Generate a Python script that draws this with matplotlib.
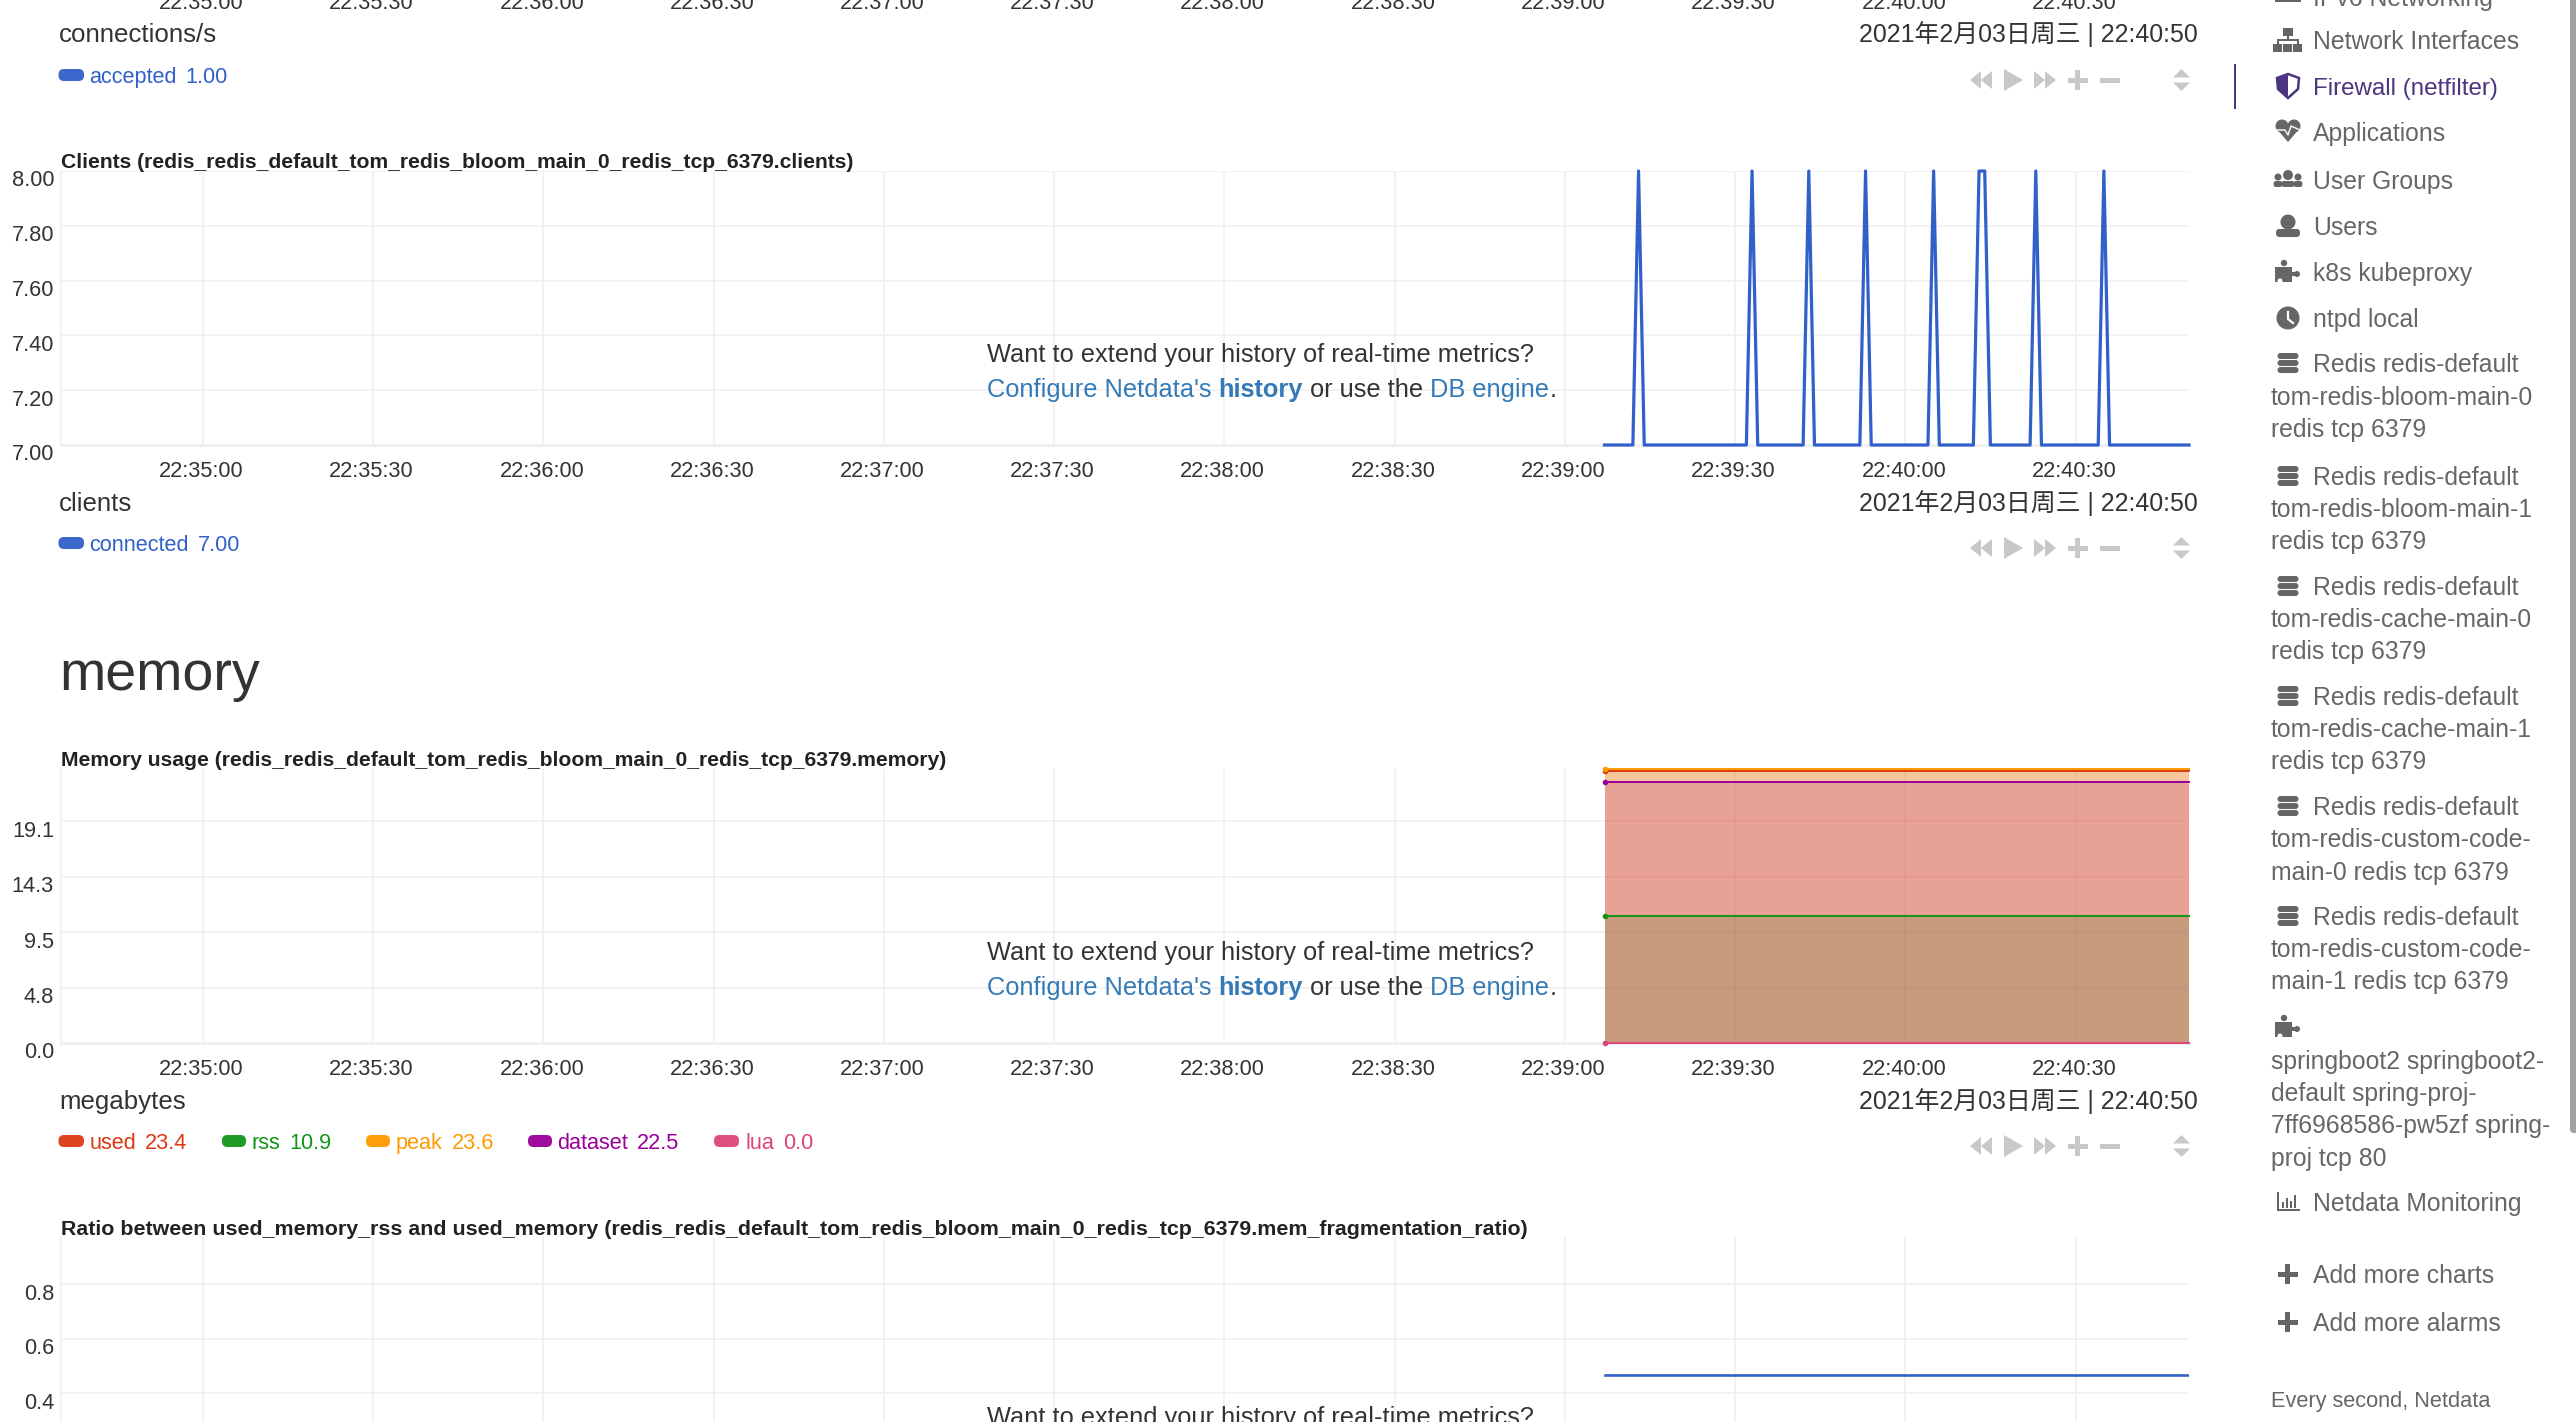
import matplotlib
matplotlib.use("Agg")
import matplotlib.pyplot as plt
import matplotlib.dates as mdates
import pandas as pd
from matplotlib.patches import Circle, FancyBboxPatch, Polygon, Rectangle
from matplotlib.transforms import ScaledTranslation

plt.rcParams["font.family"] = ["Liberation Sans", "Noto Sans CJK SC"]

# ==================== Data ====================
time_ticks = ["22:35:00", "22:35:30", "22:36:00", "22:36:30", "22:37:00", "22:37:30",
              "22:38:00", "22:38:30", "22:39:00", "22:39:30", "22:40:00", "22:40:30"]
stamp = "2021年2月03日周三 | 22:40:50"

clients_times = ["22:39:07", "22:39:12", "22:39:13", "22:39:14", "22:39:32", "22:39:33",
                 "22:39:34", "22:39:42", "22:39:43", "22:39:44", "22:39:52", "22:39:53",
                 "22:39:54", "22:40:04", "22:40:05", "22:40:06", "22:40:12", "22:40:13",
                 "22:40:14", "22:40:15", "22:40:22", "22:40:23", "22:40:24", "22:40:34",
                 "22:40:35", "22:40:36", "22:40:50"]
clients_values = [7, 7, 8, 7, 7, 8, 7, 7, 8, 7, 7, 8, 7, 7, 8, 7, 7, 8, 8, 7, 7, 8, 7, 7, 8, 7, 7]
clients_ticks = [7.0, 7.2, 7.4, 7.6, 7.8, 8.0]
clients_ticklabels = ["7.00", "7.20", "7.40", "7.60", "7.80", "8.00"]

memory_times = ["22:39:07", "22:40:50"]
memory_used = [23.4, 23.4]
memory_rss = [10.9, 10.9]
memory_peak = [23.6, 23.6]
memory_dataset = [22.5, 22.5]
memory_lua = [0.0, 0.0]
memory_ticks = [0.0, 4.775, 9.55, 14.325, 19.1]
memory_ticklabels = ["0.0", "4.8", "9.5", "14.3", "19.1"]

ratio_times = ["22:39:07", "22:40:50"]
ratio_values = [0.466, 0.466]
ratio_ticks = [0.4, 0.6, 0.8]
ratio_ticklabels = ["0.4", "0.6", "0.8"]

sidebar_rows = ["Network Interfaces", "Applications", "User Groups", "Users",
                "k8s kubeproxy", "ntpd local", "Netdata Monitoring",
                "Add more charts", "Add more alarms"]
redis_blocks = [["tom-redis-bloom-main-0", "redis tcp 6379"],
                ["tom-redis-bloom-main-1", "redis tcp 6379"],
                ["tom-redis-cache-main-0", "redis tcp 6379"],
                ["tom-redis-cache-main-1", "redis tcp 6379"],
                ["tom-redis-custom-code-", "main-0 redis tcp 6379"],
                ["tom-redis-custom-code-", "main-1 redis tcp 6379"]]
spring_lines = ["springboot2 springboot2-", "default spring-proj-",
                "7ff6968586-pw5zf spring-", "proj tcp 80"]

# ==================== Settings ====================
W, H = 2576, 1422
DPI = 100
BLUE, RED, GREEN, ORANGE, PURPLE, PINK = "#3060c8", "#dc3912", "#109618", "#ff9900", "#990099", "#dd4477"
GRID = "#f0f0f0"
INK = "#333333"
SIDE = "#666666"
LINK = "#337ab7"
CTRL = "#c8c8c8"
TICK_PT, UNIT_PT, STAMP_PT, SIDE_PT, WATER_PT, TITLE_PT, LEGEND_PT = 15.7, 18.6, 17.95, 17.8, 18.3, 15.2, 15.6

fig = plt.figure(figsize=(W / DPI, H / DPI), dpi=DPI, facecolor="white")


def tnum(times):
    return mdates.date2num(pd.to_datetime(["2021-02-03 " + t for t in times]))


def chart_axes(top, bottom, ylim, ticks, ticklabels, xlabels=True):
    left, right = 61, 2189
    ax = fig.add_axes([left / W, 1 - bottom / H, (right - left) / W, (bottom - top) / H])
    ax.set_facecolor("none")
    ax.set_xlim(tnum(["22:34:35", "22:40:50"]))
    ax.set_ylim(*ylim)
    ax.set_xticks(tnum(time_ticks), time_ticks if xlabels else [])
    ax.set_yticks(ticks, ticklabels)
    ax.tick_params(length=0, labelsize=TICK_PT, labelcolor=INK, pad=5)
    ax.tick_params(axis="x", pad=11.5)
    ax.grid(True, color=GRID, linewidth=1.2, zorder=0)
    ax.set_axisbelow(True)
    for side in ("top", "right"):
        ax.spines[side].set_visible(False)
    ax.spines["left"].set_color(GRID)
    ax.spines["left"].set_linewidth(1.2)
    ax.spines["bottom"].set_color(GRID)
    ax.spines["bottom"].set_linewidth(2.2)
    # dygraphs puts y labels a bit under the grid line
    shift_y = ScaledTranslation(0, -7.5 / DPI, fig.dpi_scale_trans)
    shift_x = ScaledTranslation(-1.5 / DPI, 0, fig.dpi_scale_trans)
    for lab in ax.get_yticklabels():
        lab.set_transform(lab.get_transform() + shift_y)
    for lab in ax.get_xticklabels():
        lab.set_transform(lab.get_transform() + shift_x)
    return ax


# ---------------- Charts ----------------
ax0 = chart_axes(-297, -23, (0, 1), [], [])

ax1 = chart_axes(171, 445, (7, 8), clients_ticks, clients_ticklabels)
ax1.plot(tnum(clients_times), clients_values, color=BLUE, linewidth=2.3, clip_on=False, zorder=3,
         solid_joinstyle="round")

ax2 = chart_axes(769, 1043, (0, 23.6), memory_ticks, memory_ticklabels)
mem_x = tnum(memory_times)
memory_series = [(memory_used, RED), (memory_rss, GREEN), (memory_dataset, PURPLE),
                 (memory_peak, ORANGE), (memory_lua, PINK)]
for vals, col in memory_series:
    ax2.fill_between(mem_x, 0, vals, color=col, alpha=0.22, linewidth=0, zorder=2)
for vals, col in memory_series:
    ax2.plot(mem_x, vals, color=col, linewidth=1.4, clip_on=False, zorder=3,
             marker="o", markersize=3, markevery=[0])

ax3 = chart_axes(1237, 1502, (0, 0.973), ratio_ticks, ratio_ticklabels, xlabels=False)
ax3.plot(tnum(ratio_times), ratio_values, color=BLUE, linewidth=1.9, zorder=3)

# ---------------- Page overlay in pixel coords ----------------
ui = fig.add_axes([0, 0, 1, 1], zorder=10)
ui.set_xlim(0, W)
ui.set_ylim(H, 0)
ui.axis("off")
ui.patch.set_alpha(0)
renderer = fig.canvas.get_renderer()


def label(x, y, s, size, color=INK, weight="normal", ha="left"):
    # y is the middle of the capitals, so the baseline sits a bit lower
    base = y + 0.36 * size * DPI / 72
    return ui.text(x, base, s, fontsize=size, color=color, fontweight=weight, ha=ha,
                   va="baseline", clip_on=True)


def runs(x, y, parts, size):
    for s, col, weight, gap in parts:
        x += gap * size * DPI / 72
        t = label(x, y, s, size, col, weight)
        x += t.get_window_extent(renderer).width


def pill(x0, x1, y, color):
    ui.add_patch(FancyBboxPatch((x0, y - 6), x1 - x0, 12, boxstyle="round,pad=0,rounding_size=5.5",
                                facecolor=color, edgecolor="none", alpha=0.95))


def controls(y):
    c = dict(facecolor=CTRL, edgecolor="none")
    for x in (1970, 1981):
        ui.add_patch(Polygon([(x + 11, y - 9), (x + 11, y + 9), (x, y)], **c))
    ui.add_patch(Polygon([(2004, y - 11), (2004, y + 11), (2023, y)], **c))
    for x in (2034, 2045):
        ui.add_patch(Polygon([(x, y - 9), (x, y + 9), (x + 11, y)], **c))
    ui.add_patch(Rectangle((2068, y - 2.5), 20, 5, **c))
    ui.add_patch(Rectangle((2075.5, y - 10), 5, 20, **c))
    ui.add_patch(Rectangle((2100, y - 2.5), 20, 5, **c))
    ui.add_patch(Polygon([(2173, y - 2.5), (2190, y - 2.5), (2181.5, y - 11)], **c))
    ui.add_patch(Polygon([(2173, y + 2.5), (2190, y + 2.5), (2181.5, y + 11)], **c))


def watermark(bottom):
    label(987, bottom - 92, "Want to extend your history of real-time metrics?", WATER_PT)
    runs(987, bottom - 57, [("Configure Netdata's", LINK, "normal", 0),
                            ("history", LINK, "bold", 0.278),
                            ("or use the", INK, "normal", 0.278),
                            ("DB engine", LINK, "normal", 0.278),
                            (".", INK, "normal", 0)], WATER_PT)


def chart_text(title, title_y, unit, unit_y, legend_y, control_y, legend):
    if title:
        label(61, title_y, title, TITLE_PT, "#222222", "bold")
    label(59, unit_y, unit, UNIT_PT)
    label(2198, unit_y, stamp, STAMP_PT, ha="right")
    for x0, x1, tx, col, name, val in legend:
        pill(x0, x1, legend_y, col)
        runs(tx, legend_y, [(name, col, "normal", 0), (val, col, "normal", 0.42)], LEGEND_PT)
    controls(control_y)


chart_text(None, 0, "connections/s", 33, 75, 80,
           [(58.5, 84, 89, BLUE, "accepted", "1.00")])
chart_text("Clients (redis_redis_default_tom_redis_bloom_main_0_redis_tcp_6379.clients)", 160,
           "clients", 502, 543, 548, [(58.5, 84, 89, BLUE, "connected", "7.00")])
chart_text("Memory usage (redis_redis_default_tom_redis_bloom_main_0_redis_tcp_6379.memory)", 758.5,
           "megabytes", 1100, 1141, 1146,
           [(58.5, 84, 89.5, RED, "used", "23.4"), (222, 246, 251.5, GREEN, "rss", "10.9"),
            (366, 390, 395.5, ORANGE, "peak", "23.6"), (528, 552, 557.5, PURPLE, "dataset", "22.5"),
            (714, 739, 745.5, PINK, "lua", "0.0")])
label(61, 1227, "Ratio between used_memory_rss and used_memory "
      "(redis_redis_default_tom_redis_bloom_main_0_redis_tcp_6379.mem_fragmentation_ratio)",
      15.36, "#222222", "bold")
label(59, 670, "memory", 40, INK)
for b in (445, 1043, 1508):
    watermark(b)


# ---------------- Sidebar icons ----------------
def box(x, y, w, h, col=SIDE):
    ui.add_patch(Rectangle((x, y), w, h, facecolor=col, edgecolor="none"))


def dot(x, y, r, col=SIDE):
    ui.add_patch(Circle((x, y), r, facecolor=col, edgecolor="none"))


def icon_network(x, y):
    box(x - 5, y - 12, 10, 8)
    box(x - 1, y - 4, 2, 4)
    box(x - 11, y - 1, 22, 2)
    for dx in (-14.5, -4.5, 5.5):
        box(x + dx, y + 4, 9, 8)
    box(x - 11, y, 2, 4)
    box(x + 9, y, 2, 4)


def icon_shield(x, y, col):
    ui.add_patch(Polygon([(x, y - 12), (x + 11, y - 8), (x + 10, y + 3), (x, y + 12),
                          (x - 10, y + 3), (x - 11, y - 8)], closed=True,
                         facecolor="white", edgecolor=col, linewidth=1.8))
    ui.add_patch(Polygon([(x, y - 12), (x, y + 12), (x - 10, y + 3), (x - 11, y - 8)], facecolor=col, edgecolor="none"))


def icon_heart(x, y):
    dot(x - 6, y - 6, 6.5)
    dot(x + 6, y - 6, 6.5)
    ui.add_patch(Polygon([(x - 12, y - 4), (x + 12, y - 4), (x, y + 10)], facecolor=SIDE, edgecolor="none"))
    ui.plot([x - 12, x - 3, x, x + 3, x + 12], [y - 2, y - 2, y + 3, y - 6, y - 2], color="white", linewidth=1)


def icon_users(x, y):
    dot(x, y - 5, 5)
    dot(x - 10, y - 3, 3.5)
    dot(x + 10, y - 3, 3.5)
    for dx, w in ((-14.5, 9), (5.5, 9), (-6.5, 13)):
        ui.add_patch(FancyBboxPatch((x + dx, y + 1), w, 6, boxstyle="round,pad=0,rounding_size=2.5",
                                    facecolor=SIDE, edgecolor="none"))


def icon_user(x, y):
    dot(x, y - 4, 7.5)
    ui.add_patch(FancyBboxPatch((x - 12, y + 3), 24, 8, boxstyle="round,pad=0,rounding_size=3.5",
                                facecolor=SIDE, edgecolor="none"))


def icon_puzzle(x, y):
    box(x - 13, y - 5, 17, 15)
    dot(x - 4, y - 9, 3.2)
    dot(x + 9, y + 2, 3)
    box(x + 3, y, 5, 4)
    dot(x - 8, y + 9, 2.5, "white")


def icon_clock(x, y):
    dot(x, y, 11.5)
    ui.plot([x, x, x + 5], [y - 6, y + 1, y + 5], color="white", linewidth=1.6)


def icon_db(x, y):
    for dy in (-7, 0, 7):
        ui.add_patch(FancyBboxPatch((x - 10.5, y + dy - 3), 21, 6, boxstyle="round,pad=0,rounding_size=3",
                                    facecolor=SIDE, edgecolor="none"))


def icon_plus(x, y):
    box(x - 10, y - 2.5, 20, 5)
    box(x - 2.5, y - 10, 5, 20)


def icon_bars(x, y):
    box(x - 11, y - 10, 2, 19)
    box(x - 11, y + 7, 23, 2)
    for dx, h in ((-6, 6), (-2, 10), (2, 7), (6, 13)):
        box(x + dx, y + 6 - h, 2.5, h)


ICON_X, TEXT_X, WRAP_X = 2288, 2313, 2271
sidebar_icons = [icon_network, icon_heart, icon_users, icon_user, icon_puzzle, icon_clock,
                 icon_bars, icon_plus, icon_plus]
sidebar_y = [40, 132, 180, 226, 272, 318, 1202, 1274, 1322]

label(TEXT_X, -3, "IPv6 Networking", SIDE_PT, SIDE)
box(ICON_X - 13, -6, 26, 8)
for s, y, icon in zip(sidebar_rows, sidebar_y, sidebar_icons):
    label(TEXT_X, y, s, SIDE_PT, SIDE)
    icon(ICON_X, y)

PURPLE_NAV = "#4b3480"
label(TEXT_X, 86, "Firewall (netfilter)", 17.4, PURPLE_NAV)
icon_shield(ICON_X, 86, PURPLE_NAV)
box(2234, 64, 2, 45, PURPLE_NAV)

redis_y = [(363, 396, 428), (476, 508, 540), (586, 618, 650), (696, 728, 760),
           (806, 838, 871), (916, 948, 980)]
for lines, (y0, y1, y2) in zip(redis_blocks, redis_y):
    icon_db(ICON_X, y0)
    label(TEXT_X, y0, "Redis redis-default", SIDE_PT, SIDE)
    label(WRAP_X, y1, lines[0], SIDE_PT, SIDE)
    label(WRAP_X, y2, lines[1], SIDE_PT, SIDE)

icon_puzzle(ICON_X, 1027)
for s, y in zip(spring_lines, (1060, 1092, 1124, 1157)):
    label(WRAP_X, y, s, SIDE_PT, SIDE)
label(WRAP_X, 1399, "Every second, Netdata", 15.7, SIDE)

# scrollbar
ui.add_patch(FancyBboxPatch((2570, -10), 12, 1143, boxstyle="round,pad=0,rounding_size=4",
                            facecolor="#a0a0a0", edgecolor="none", clip_on=True))

fig.savefig("out.png", dpi=DPI)
